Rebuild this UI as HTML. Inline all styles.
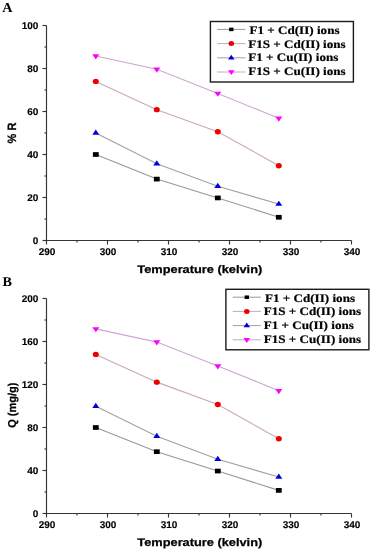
<!DOCTYPE html>
<html><head><meta charset="utf-8"><style>
html,body{margin:0;padding:0;background:#fff;width:372px;height:550px;overflow:hidden}
svg{display:block}
text{text-rendering:geometricPrecision}
.ax{stroke:#353535;stroke-width:1.15;fill:none}
.tl{font-family:"Liberation Sans",Arial,sans-serif;font-weight:bold;font-size:9.7px;fill:#000;stroke:#000;stroke-width:0.15px}
.at{font-family:"Liberation Sans",Arial,sans-serif;font-weight:bold;font-size:11px;fill:#000;stroke:#000;stroke-width:0.25px}
.tx{font-size:9.8px}
.pl{font-family:"Liberation Serif","Times New Roman",serif;font-weight:bold;font-size:13.5px;fill:#000}
.lg{font-family:"Liberation Serif","Times New Roman",serif;font-weight:bold;font-size:11.5px;fill:#000;stroke:#000;stroke-width:0.2px}
</style></head><body>
<svg width="372" height="550" viewBox="0 0 372 550">
<rect width="372" height="550" fill="#fff"/>
<path d="M46.5,25.5 V240.5 H351.5" class="ax"/>
<path d="M42.5,240.5 H46.5" class="ax"/>
<text transform="translate(38.3,243.60) scale(1.03,1)" class="tl" text-anchor="end">0</text>
<path d="M44.5,219.0 H46.5" class="ax"/>
<path d="M42.5,197.5 H46.5" class="ax"/>
<text transform="translate(38.3,200.60) scale(1.03,1)" class="tl" text-anchor="end">20</text>
<path d="M44.5,176.0 H46.5" class="ax"/>
<path d="M42.5,154.5 H46.5" class="ax"/>
<text transform="translate(38.3,157.60) scale(1.03,1)" class="tl" text-anchor="end">40</text>
<path d="M44.5,133.0 H46.5" class="ax"/>
<path d="M42.5,111.5 H46.5" class="ax"/>
<text transform="translate(38.3,114.60) scale(1.03,1)" class="tl" text-anchor="end">60</text>
<path d="M44.5,90.0 H46.5" class="ax"/>
<path d="M42.5,68.5 H46.5" class="ax"/>
<text transform="translate(38.3,71.60) scale(1.03,1)" class="tl" text-anchor="end">80</text>
<path d="M44.5,47.0 H46.5" class="ax"/>
<path d="M42.5,25.5 H46.5" class="ax"/>
<text transform="translate(38.3,28.60) scale(1.03,1)" class="tl" text-anchor="end">100</text>
<path d="M46.5,240.5 V244.5" class="ax"/>
<text transform="translate(47.00,255.00) scale(1.02,1)" class="tl tx" text-anchor="middle">290</text>
<path d="M77.0,240.5 V242.5" class="ax"/>
<path d="M107.5,240.5 V244.5" class="ax"/>
<text transform="translate(108.00,255.00) scale(1.02,1)" class="tl tx" text-anchor="middle">300</text>
<path d="M138.0,240.5 V242.5" class="ax"/>
<path d="M168.5,240.5 V244.5" class="ax"/>
<text transform="translate(169.00,255.00) scale(1.02,1)" class="tl tx" text-anchor="middle">310</text>
<path d="M199.0,240.5 V242.5" class="ax"/>
<path d="M229.5,240.5 V244.5" class="ax"/>
<text transform="translate(230.00,255.00) scale(1.02,1)" class="tl tx" text-anchor="middle">320</text>
<path d="M260.0,240.5 V242.5" class="ax"/>
<path d="M290.5,240.5 V244.5" class="ax"/>
<text transform="translate(291.00,255.00) scale(1.02,1)" class="tl tx" text-anchor="middle">330</text>
<path d="M321.0,240.5 V242.5" class="ax"/>
<path d="M351.5,240.5 V244.5" class="ax"/>
<text transform="translate(352.00,255.00) scale(1.02,1)" class="tl tx" text-anchor="middle">340</text>
<text transform="translate(199.80,273.00) scale(1.163,1)" class="at" text-anchor="middle">Temperature (kelvin)</text>
<text transform="translate(16.0,133.00) rotate(-90) scale(1,1.1)" class="at" text-anchor="middle">% R</text>
<text transform="translate(2.3,11.8) scale(1.05,1)" class="pl">A</text>
<path d="M95.80,154.50 L156.80,179.10 L217.80,197.93 L278.80,217.28" fill="none" stroke="#989898" stroke-width="1.1"/>
<path d="M95.80,81.40 L156.80,109.67 L217.80,131.71 L278.80,165.68" fill="none" stroke="#c6acae" stroke-width="1.1"/>
<path d="M95.80,133.05 L156.80,163.65 L217.80,186.31 L278.80,204.09" fill="none" stroke="#a0a0a8" stroke-width="1.1"/>
<path d="M95.80,56.06 L156.80,69.32 L217.80,93.41 L278.80,118.34" fill="none" stroke="#cca6d0" stroke-width="1.1"/>
<rect x="92.90" y="152.15" width="5.80" height="4.70" fill="#000000"/>
<rect x="153.90" y="176.75" width="5.80" height="4.70" fill="#000000"/>
<rect x="214.90" y="195.58" width="5.80" height="4.70" fill="#000000"/>
<rect x="275.90" y="214.93" width="5.80" height="4.70" fill="#000000"/>
<ellipse cx="95.80" cy="81.40" rx="3.00" ry="2.70" fill="#ee0000"/>
<ellipse cx="156.80" cy="109.67" rx="3.00" ry="2.70" fill="#ee0000"/>
<ellipse cx="217.80" cy="131.71" rx="3.00" ry="2.70" fill="#ee0000"/>
<ellipse cx="278.80" cy="165.68" rx="3.00" ry="2.70" fill="#ee0000"/>
<polygon points="92.30,134.80 99.30,134.80 95.80,129.60" fill="#0000dd"/>
<polygon points="153.30,165.40 160.30,165.40 156.80,160.20" fill="#0000dd"/>
<polygon points="214.30,188.06 221.30,188.06 217.80,182.86" fill="#0000dd"/>
<polygon points="275.30,205.84 282.30,205.84 278.80,200.64" fill="#0000dd"/>
<polygon points="92.30,54.31 99.30,54.31 95.80,59.51" fill="#ff00ff"/>
<polygon points="153.30,67.57 160.30,67.57 156.80,72.77" fill="#ff00ff"/>
<polygon points="214.30,91.66 221.30,91.66 217.80,96.85" fill="#ff00ff"/>
<polygon points="275.30,116.59 282.30,116.59 278.80,121.79" fill="#ff00ff"/>
<rect x="210.4" y="21.5" width="143" height="60.5" fill="#fff" stroke="#1a1a1a" stroke-width="1.4"/>
<path d="M217.20,29.40 H245.40" stroke="#989898" stroke-width="1"/>
<rect x="229.12" y="27.64" width="4.35" height="3.53" fill="#000000"/>
<text transform="translate(249.40,34.00) scale(1.14,1)" class="lg">F1 + Cd(II) ions</text>
<path d="M217.20,43.60 H245.40" stroke="#c6acae" stroke-width="1"/>
<ellipse cx="231.30" cy="43.60" rx="2.79" ry="2.51" fill="#ee0000"/>
<text transform="translate(248.20,47.50) scale(1.14,1)" class="lg">F1S + Cd(II) ions</text>
<path d="M217.20,57.80 H245.40" stroke="#a0a0a8" stroke-width="1"/>
<polygon points="228.05,59.52 234.56,59.52 231.30,54.68" fill="#0000dd"/>
<text transform="translate(248.20,61.20) scale(1.14,1)" class="lg">F1 + Cu(II) ions</text>
<path d="M217.20,72.00 H245.40" stroke="#cca6d0" stroke-width="1"/>
<polygon points="228.05,70.28 234.56,70.28 231.30,75.12" fill="#ff00ff"/>
<text transform="translate(248.20,74.90) scale(1.14,1)" class="lg">F1S + Cu(II) ions</text>
<path d="M46.5,298.5 V513.5 H351.5" class="ax"/>
<path d="M42.5,513.5 H46.5" class="ax"/>
<text transform="translate(38.3,516.60) scale(1.03,1)" class="tl" text-anchor="end">0</text>
<path d="M44.5,492.0 H46.5" class="ax"/>
<path d="M42.5,470.5 H46.5" class="ax"/>
<text transform="translate(38.3,473.60) scale(1.03,1)" class="tl" text-anchor="end">40</text>
<path d="M44.5,449.0 H46.5" class="ax"/>
<path d="M42.5,427.5 H46.5" class="ax"/>
<text transform="translate(38.3,430.60) scale(1.03,1)" class="tl" text-anchor="end">80</text>
<path d="M44.5,406.0 H46.5" class="ax"/>
<path d="M42.5,384.5 H46.5" class="ax"/>
<text transform="translate(38.3,387.60) scale(1.03,1)" class="tl" text-anchor="end">120</text>
<path d="M44.5,363.0 H46.5" class="ax"/>
<path d="M42.5,341.5 H46.5" class="ax"/>
<text transform="translate(38.3,344.60) scale(1.03,1)" class="tl" text-anchor="end">160</text>
<path d="M44.5,320.0 H46.5" class="ax"/>
<path d="M42.5,298.5 H46.5" class="ax"/>
<text transform="translate(38.3,301.60) scale(1.03,1)" class="tl" text-anchor="end">200</text>
<path d="M46.5,513.5 V517.5" class="ax"/>
<text transform="translate(47.00,528.00) scale(1.02,1)" class="tl tx" text-anchor="middle">290</text>
<path d="M77.0,513.5 V515.5" class="ax"/>
<path d="M107.5,513.5 V517.5" class="ax"/>
<text transform="translate(108.00,528.00) scale(1.02,1)" class="tl tx" text-anchor="middle">300</text>
<path d="M138.0,513.5 V515.5" class="ax"/>
<path d="M168.5,513.5 V517.5" class="ax"/>
<text transform="translate(169.00,528.00) scale(1.02,1)" class="tl tx" text-anchor="middle">310</text>
<path d="M199.0,513.5 V515.5" class="ax"/>
<path d="M229.5,513.5 V517.5" class="ax"/>
<text transform="translate(230.00,528.00) scale(1.02,1)" class="tl tx" text-anchor="middle">320</text>
<path d="M260.0,513.5 V515.5" class="ax"/>
<path d="M290.5,513.5 V517.5" class="ax"/>
<text transform="translate(291.00,528.00) scale(1.02,1)" class="tl tx" text-anchor="middle">330</text>
<path d="M321.0,513.5 V515.5" class="ax"/>
<path d="M351.5,513.5 V517.5" class="ax"/>
<text transform="translate(352.00,528.00) scale(1.02,1)" class="tl tx" text-anchor="middle">340</text>
<text transform="translate(199.80,546.00) scale(1.163,1)" class="at" text-anchor="middle">Temperature (kelvin)</text>
<text transform="translate(15.6,405.20) rotate(-90) scale(1,1.04)" class="at" text-anchor="middle">Q (mg/g)</text>
<text transform="translate(2.6,285.6) scale(1.05,1)" class="pl">B</text>
<path d="M95.80,427.50 L156.80,451.69 L217.80,471.04 L278.80,490.39" fill="none" stroke="#989898" stroke-width="1.1"/>
<path d="M95.80,354.40 L156.80,382.13 L217.80,404.50 L278.80,438.68" fill="none" stroke="#c6acae" stroke-width="1.1"/>
<path d="M95.80,406.21 L156.80,436.20 L217.80,459.31 L278.80,477.05" fill="none" stroke="#a0a0a8" stroke-width="1.1"/>
<path d="M95.80,328.89 L156.80,342.11 L217.80,365.98 L278.80,390.70" fill="none" stroke="#cca6d0" stroke-width="1.1"/>
<rect x="92.90" y="425.15" width="5.80" height="4.70" fill="#000000"/>
<rect x="153.90" y="449.34" width="5.80" height="4.70" fill="#000000"/>
<rect x="214.90" y="468.69" width="5.80" height="4.70" fill="#000000"/>
<rect x="275.90" y="488.04" width="5.80" height="4.70" fill="#000000"/>
<ellipse cx="95.80" cy="354.40" rx="3.00" ry="2.70" fill="#ee0000"/>
<ellipse cx="156.80" cy="382.13" rx="3.00" ry="2.70" fill="#ee0000"/>
<ellipse cx="217.80" cy="404.50" rx="3.00" ry="2.70" fill="#ee0000"/>
<ellipse cx="278.80" cy="438.68" rx="3.00" ry="2.70" fill="#ee0000"/>
<polygon points="92.30,407.96 99.30,407.96 95.80,402.75" fill="#0000dd"/>
<polygon points="153.30,437.95 160.30,437.95 156.80,432.75" fill="#0000dd"/>
<polygon points="214.30,461.06 221.30,461.06 217.80,455.86" fill="#0000dd"/>
<polygon points="275.30,478.80 282.30,478.80 278.80,473.60" fill="#0000dd"/>
<polygon points="92.30,327.14 99.30,327.14 95.80,332.34" fill="#ff00ff"/>
<polygon points="153.30,340.36 160.30,340.36 156.80,345.56" fill="#ff00ff"/>
<polygon points="214.30,364.23 221.30,364.23 217.80,369.43" fill="#ff00ff"/>
<polygon points="275.30,388.95 282.30,388.95 278.80,394.15" fill="#ff00ff"/>
<rect x="225.9" y="289.3" width="143" height="60.5" fill="#fff" stroke="#1a1a1a" stroke-width="1.4"/>
<path d="M232.70,297.20 H260.90" stroke="#989898" stroke-width="1"/>
<rect x="244.62" y="295.44" width="4.35" height="3.53" fill="#000000"/>
<text transform="translate(264.90,301.80) scale(1.14,1)" class="lg">F1 + Cd(II) ions</text>
<path d="M232.70,311.40 H260.90" stroke="#c6acae" stroke-width="1"/>
<ellipse cx="246.80" cy="311.40" rx="2.79" ry="2.51" fill="#ee0000"/>
<text transform="translate(263.70,315.30) scale(1.14,1)" class="lg">F1S + Cd(II) ions</text>
<path d="M232.70,325.60 H260.90" stroke="#a0a0a8" stroke-width="1"/>
<polygon points="243.55,327.32 250.06,327.32 246.80,322.48" fill="#0000dd"/>
<text transform="translate(263.70,329.00) scale(1.14,1)" class="lg">F1 + Cu(II) ions</text>
<path d="M232.70,339.80 H260.90" stroke="#cca6d0" stroke-width="1"/>
<polygon points="243.55,338.08 250.06,338.08 246.80,342.92" fill="#ff00ff"/>
<text transform="translate(263.70,342.70) scale(1.14,1)" class="lg">F1S + Cu(II) ions</text>
</svg>
</body></html>
